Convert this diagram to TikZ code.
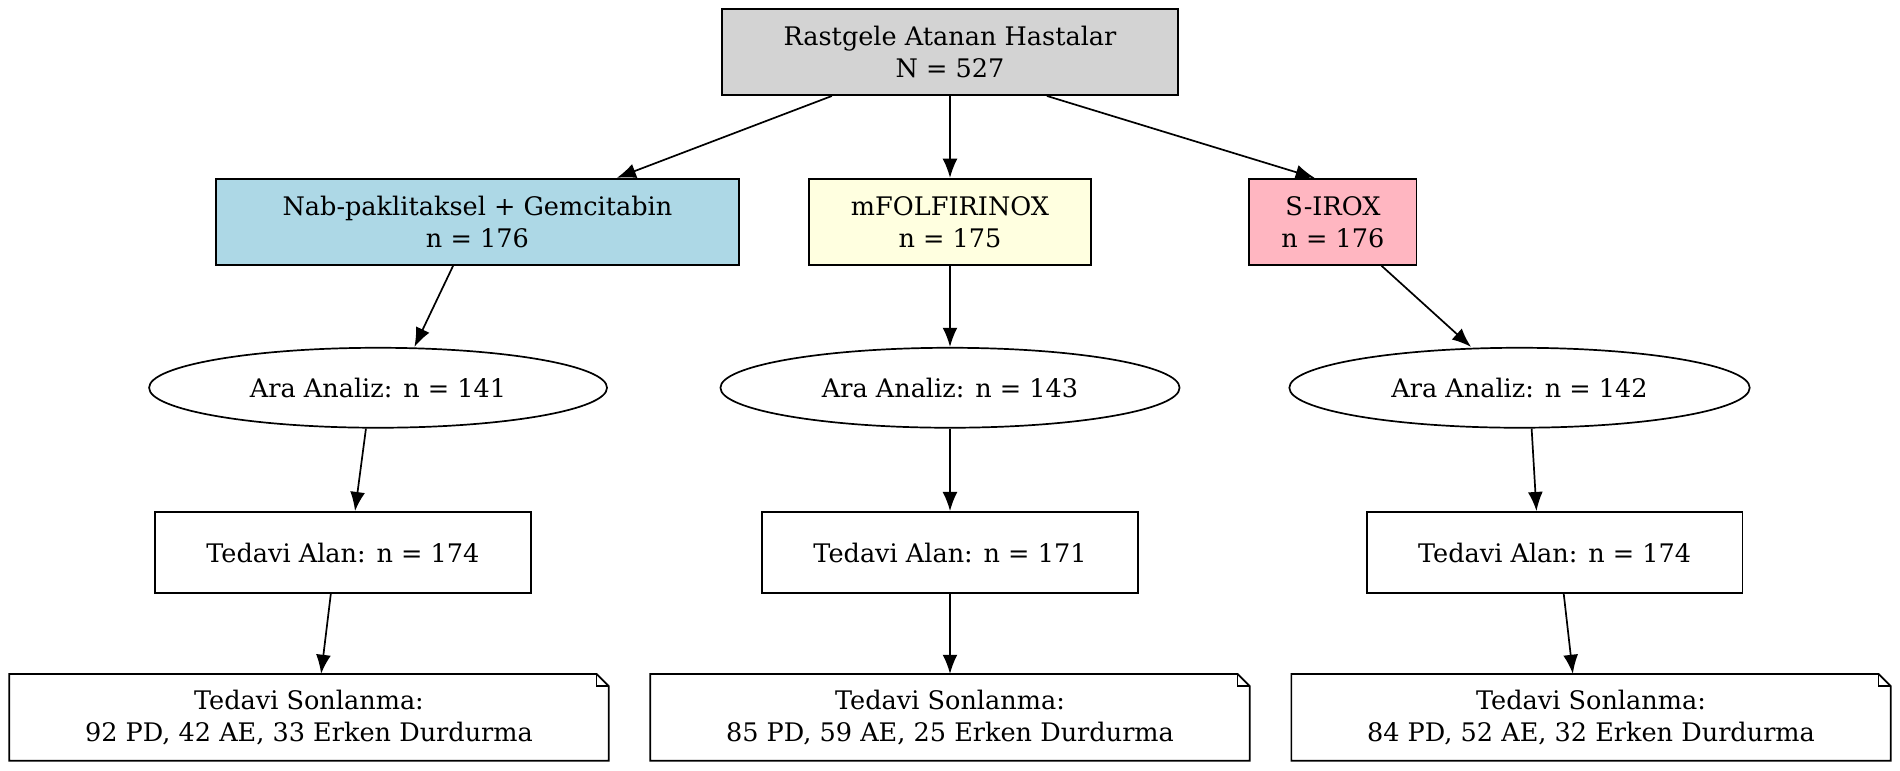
\documentclass[tikz,border=0pt]{standalone}
\usepackage{fontspec}
\setmainfont{DejaVu Serif}
\usetikzlibrary{shapes.geometric,arrows.meta}
\definecolor{lblue}{RGB}{173,216,230}
\definecolor{lyel}{RGB}{255,255,224}
\definecolor{lpink}{RGB}{255,182,193}
\definecolor{lgray}{RGB}{211,211,211}
\begin{document}
\begin{tikzpicture}[x=0.02cm,y=-0.02cm,
  every node/.style={font=\fontsize{12}{15}\selectfont, align=center, inner sep=0pt},
  box/.style={draw, line width=0.8pt, rectangle},
  ell/.style={draw, line width=0.8pt, ellipse},
  note/.style={rectangle},
  arr/.style={-{Latex[length=9pt,width=7pt]}, line width=0.8pt}]
\useasboundingbox (0,0) rectangle (1568,636);
\node[box, fill=lgray, minimum width=376\pgflinewidth*0+7.52cm, minimum height=1.42cm] (r) at (784,43) {Rastgele Atanan Hastalar\\N = 527};
\node[box, fill=lblue, minimum width=8.64cm, minimum height=1.42cm] (a) at (394,183) {Nab-paklitaksel + Gemcitabin\\n = 176};
\node[box, fill=lyel, minimum width=4.66cm, minimum height=1.42cm] (b) at (784,183) {mFOLFIRINOX\\n = 175};
\node[box, fill=lpink, minimum width=2.76cm, minimum height=1.42cm] (c) at (1100,183) {S-IROX\\n = 176};
\node[ell, minimum width=7.56cm, minimum height=1.32cm] (ea) at (312,320) {Ara Analiz: n = 141};
\node[ell, minimum width=7.58cm, minimum height=1.32cm] (eb) at (784,320) {Ara Analiz: n = 143};
\node[ell, minimum width=7.6cm, minimum height=1.32cm] (ec) at (1254,320) {Ara Analiz: n = 142};
\node[box, minimum width=6.2cm, minimum height=1.34cm] (ta) at (283,456) {Tedavi Alan: n = 174};
\node[box, minimum width=6.2cm, minimum height=1.34cm] (tb) at (784,456) {Tedavi Alan: n = 171};
\node[box, minimum width=6.2cm, minimum height=1.34cm] (tc) at (1283,456) {Tedavi Alan: n = 174};
\node[note, minimum width=9.88cm, minimum height=1.42cm] (na) at (255,592) {Tedavi Sonlanma:\\92 PD, 42 AE, 33 Erken Durdurma};
\node[note, minimum width=9.88cm, minimum height=1.42cm] (nb) at (784,592) {Tedavi Sonlanma:\\85 PD, 59 AE, 25 Erken Durdurma};
\node[note, minimum width=9.88cm, minimum height=1.42cm] (nc) at (1313,592) {Tedavi Sonlanma:\\84 PD, 52 AE, 32 Erken Durdurma};
\foreach \n in {na,nb,nc}{
  \draw[line width=0.8pt] (\n.south west) -- (\n.north west) -- ([xshift=-0.2cm]\n.north east) -- ([yshift=-0.2cm]\n.north east) -- (\n.south east) -- cycle;
  \draw[line width=0.8pt] ([xshift=-0.2cm]\n.north east) -- ([xshift=-0.2cm,yshift=-0.2cm]\n.north east) -- ([yshift=-0.2cm]\n.north east);
}
\draw[arr] ([xshift=-1.95cm]r.south) -- ([xshift=2.3cm]a.north);
\draw[arr] (r) -- (b);
\draw[arr] ([xshift=1.6cm]r.south) -- ([xshift=-0.3cm]c.north);
\draw[arr] ([xshift=-0.4cm]a.south) -- ([xshift=0.6cm]ea.north);
\draw[arr] (b) -- (eb);
\draw[arr] ([xshift=0.8cm]c.south) -- ([xshift=-0.8cm]ec.north);
\draw[arr] ([xshift=-0.2cm]ea.south) -- ([xshift=0.2cm]ta.north);
\draw[arr] (eb) -- (tb);
\draw[arr] ([xshift=0.2cm]ec.south) -- ([xshift=-0.3cm]tc.north);
\draw[arr] ([xshift=-0.2cm]ta.south) -- ([xshift=0.2cm]na.north);
\draw[arr] (tb) -- (nb);
\draw[arr] ([xshift=0.15cm]tc.south) -- ([xshift=-0.3cm]nc.north);
\end{tikzpicture}
\end{document}
